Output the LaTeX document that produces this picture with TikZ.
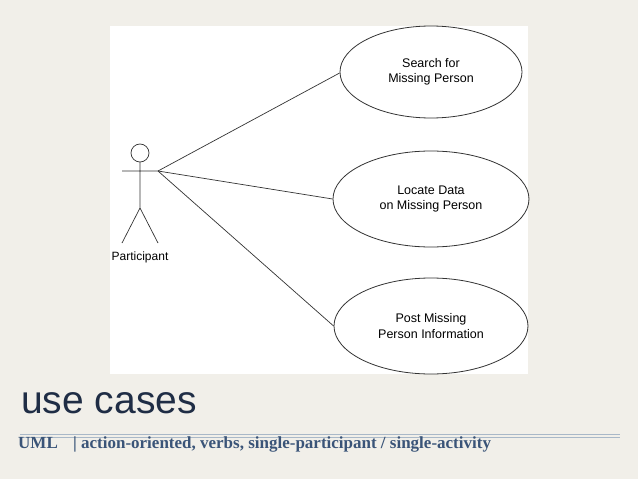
\documentclass[tikz,border=0pt]{standalone}
\usepackage{fontspec}
\setmainfont{Liberation Sans}
\newfontfamily\serifb{Liberation Serif}
\usetikzlibrary{shapes.geometric}
\definecolor{bg}{HTML}{F1EFE9}
\definecolor{navy}{HTML}{1F2D45}
\definecolor{rule}{HTML}{A9B8C8}
\definecolor{sub}{HTML}{3A5478}
\begin{document}
\begin{tikzpicture}[x=1pt,y=-1pt,
  uc/.style={ellipse,draw=black!80,line width=0.8pt,align=center,inner sep=0,font=\fontsize{12.5}{15.5}\selectfont},
  ln/.style={draw=black!80,line width=0.7pt}]
\fill[bg] (0,0) rectangle (638,479);
\useasboundingbox (0,0) rectangle (638,479);
\fill[white] (110,26) rectangle (528,374);
% actor
\draw[ln] (140,153) circle (9);
\draw[ln] (140,162) -- (140,208) (122,171) -- (158,171)
  (122,243) -- (140,208) -- (158,243);
\coordinate (hand) at (158,171);
\node[font=\fontsize{12}{14}\selectfont] (p) at (140,257) {Participant};
\node[uc,minimum width=182,minimum height=92] (a) at (431,72) {Search for\\Missing Person};
\node[uc,minimum width=196,minimum height=96] (b) at (431,199) {Locate Data\\on Missing Person};
\node[uc,minimum width=194,minimum height=96] (c) at (431,326) {Post Missing\\Person Information};
\draw[ln] (hand) -- (a.west|-0,73) ;
\draw[ln] (hand) -- (b.west);
\draw[ln] (hand) -- (c.west);
\node[anchor=base west,text=navy,font=\fontsize{39}{42}\selectfont,inner sep=0] (t) at (21,413) {use cases};
\draw[rule,line width=0.8pt] (20,434) -- (620,434) (20,437.5) -- (620,437.5);
\node[anchor=base west,text=sub,font=\serifb\bfseries\fontsize{17}{19}\selectfont,inner sep=0] (s) at (18,448) {UML\hspace{0.9em}| action-oriented, verbs, single-participant / single-activity};
\end{tikzpicture}
\end{document}
